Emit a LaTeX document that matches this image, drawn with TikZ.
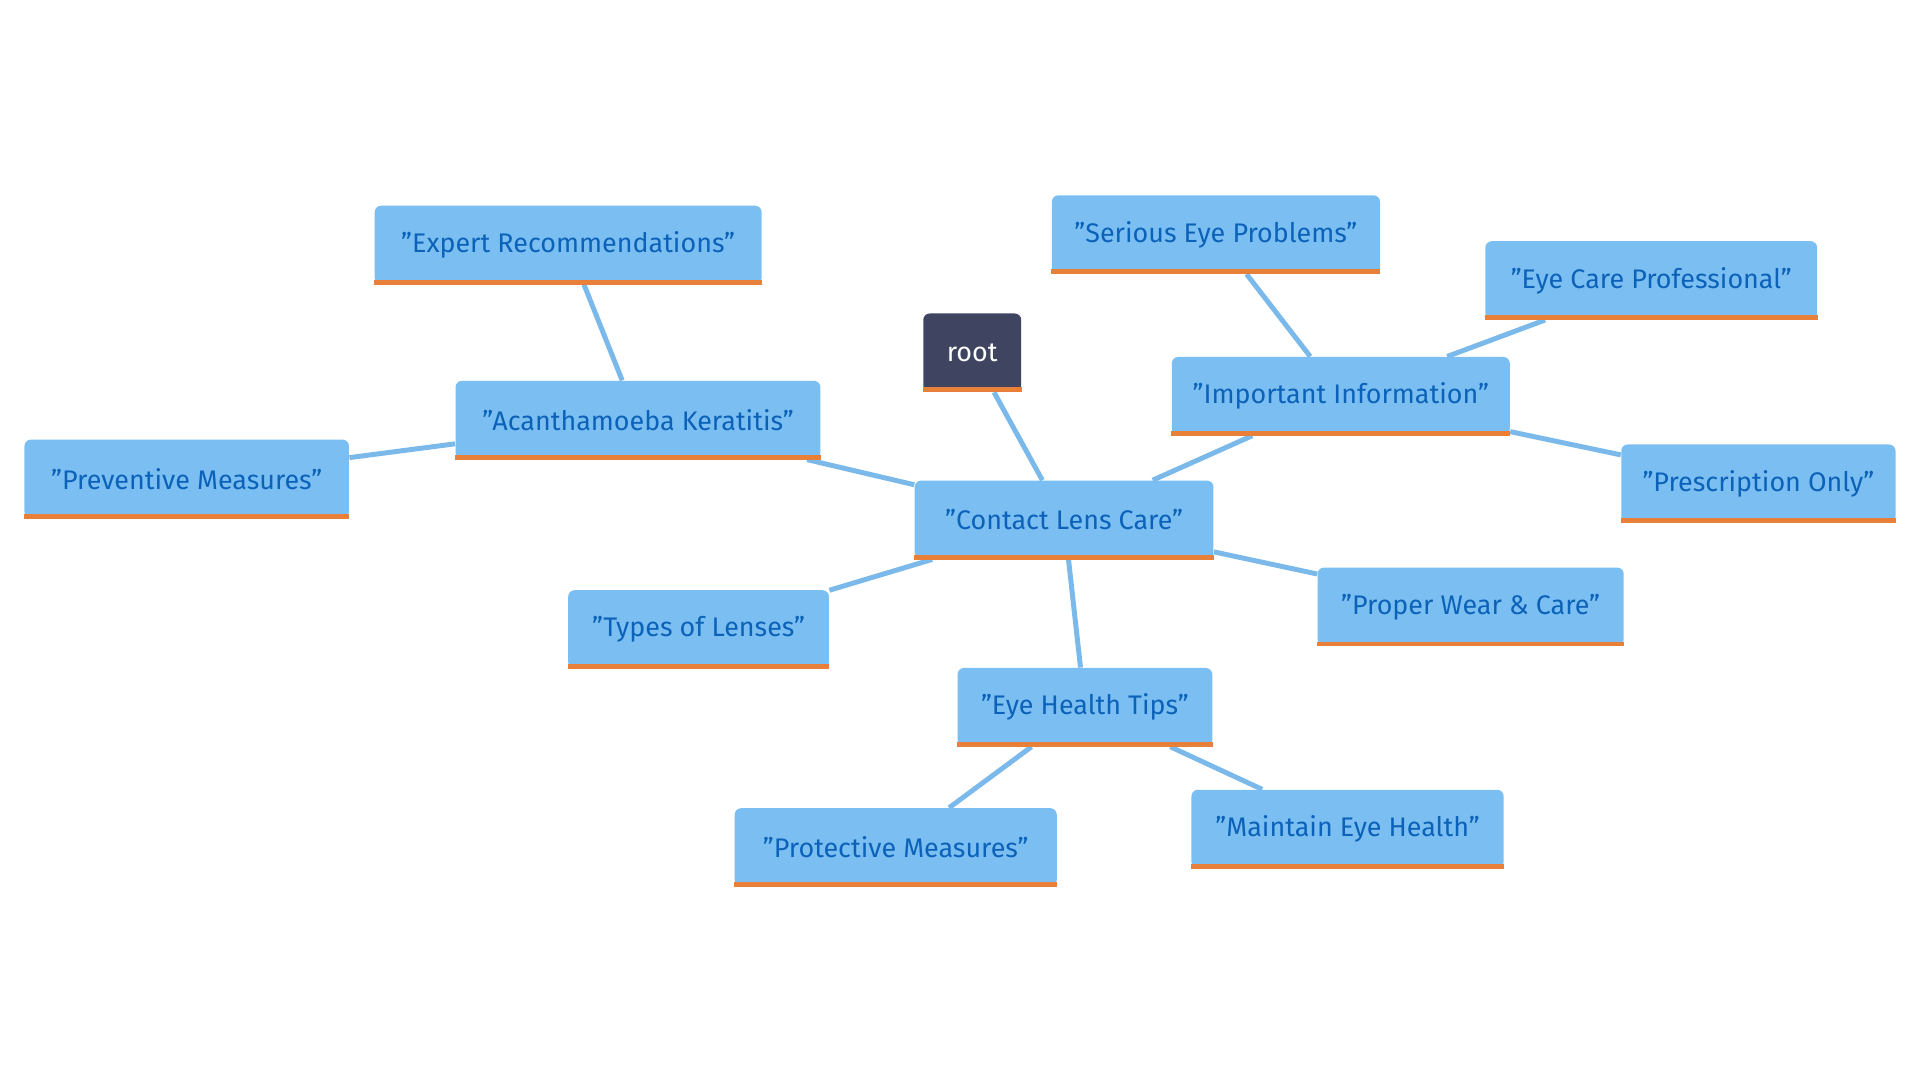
\documentclass[tikz,border=0pt]{standalone}
\usepackage{fontspec}
\setmainfont{Fira Sans}
\usepackage{tikz}
\usetikzlibrary{backgrounds}
\definecolor{boxblue}{HTML}{7BBFF2}
\definecolor{textblue}{HTML}{0B62B8}
\definecolor{edgeblue}{HTML}{7AB9EA}
\definecolor{barorange}{HTML}{E8803A}
\definecolor{rootgray}{HTML}{3F4560}
\tikzset{
  topic/.style={fill=boxblue, text=textblue, minimum height=1.28cm, rounded corners=3pt, font=\fontsize{12.5}{14}\selectfont, inner sep=0pt},
  rootbox/.style={topic, fill=rootgray, text=white},
  link/.style={draw=edgeblue, line width=2.3pt}
}
\begin{document}
\begin{tikzpicture}
\useasboundingbox (0,0) rectangle (31.36,-17.64);
\node[rootbox, minimum width=1.6cm] (root) at (15.88,-5.76) {root};
\node[topic, minimum width=4.88cm] (care) at (17.38,-8.49) {"Contact Lens Care"};
\node[topic, minimum width=5.96cm] (acanth) at (10.42,-6.86) {"Acanthamoeba Keratitis"};
\node[topic, minimum width=6.32cm] (expert) at (9.28,-4.00) {"Expert Recommendations"};
\node[topic, minimum width=5.30cm] (prevent) at (3.05,-7.82) {"Preventive Measures"};
\node[topic, minimum width=4.26cm] (types) at (11.41,-10.28) {"Types of Lenses"};
\node[topic, minimum width=4.16cm] (tips) at (17.72,-11.55) {"Eye Health Tips"};
\node[topic, minimum width=5.26cm] (protect) at (14.63,-13.84) {"Protective Measures"};
\node[topic, minimum width=5.10cm] (maintain) at (22.01,-13.54) {"Maintain Eye Health"};
\node[topic, minimum width=5.00cm] (wear) at (24.02,-9.91) {"Proper Wear \& Care"};
\node[topic, minimum width=5.52cm] (info) at (21.90,-6.47) {"Important Information"};
\node[topic, minimum width=5.36cm] (serious) at (19.86,-3.83) {"Serious Eye Problems"};
\node[topic, minimum width=5.42cm] (pro) at (26.97,-4.58) {"Eye Care Professional"};
\node[topic, minimum width=4.48cm] (presc) at (28.72,-7.90) {"Prescription Only"};
% orange bars under every box
\foreach \n in {root,care,acanth,expert,prevent,types,tips,protect,maintain,wear,info,serious,pro,presc}
  \draw[barorange, line width=2.3pt] ([yshift=1.1pt]\n.south west) -- ([yshift=1.1pt]\n.south east);
\begin{scope}[on background layer]
\draw[link] (root) -- (care);
\draw[link] (care) -- (acanth);
\draw[link] (acanth) -- (expert);
\draw[link] (acanth) -- (prevent);
\draw[link] (care) -- (types);
\draw[link] (care) -- (tips);
\draw[link] (tips) -- (protect);
\draw[link] (tips) -- (maintain);
\draw[link] (care) -- (wear);
\draw[link] (care) -- (info);
\draw[link] (info) -- (serious);
\draw[link] (info) -- (pro);
\draw[link] (info) -- (presc);
\end{scope}
\end{tikzpicture}
\end{document}
